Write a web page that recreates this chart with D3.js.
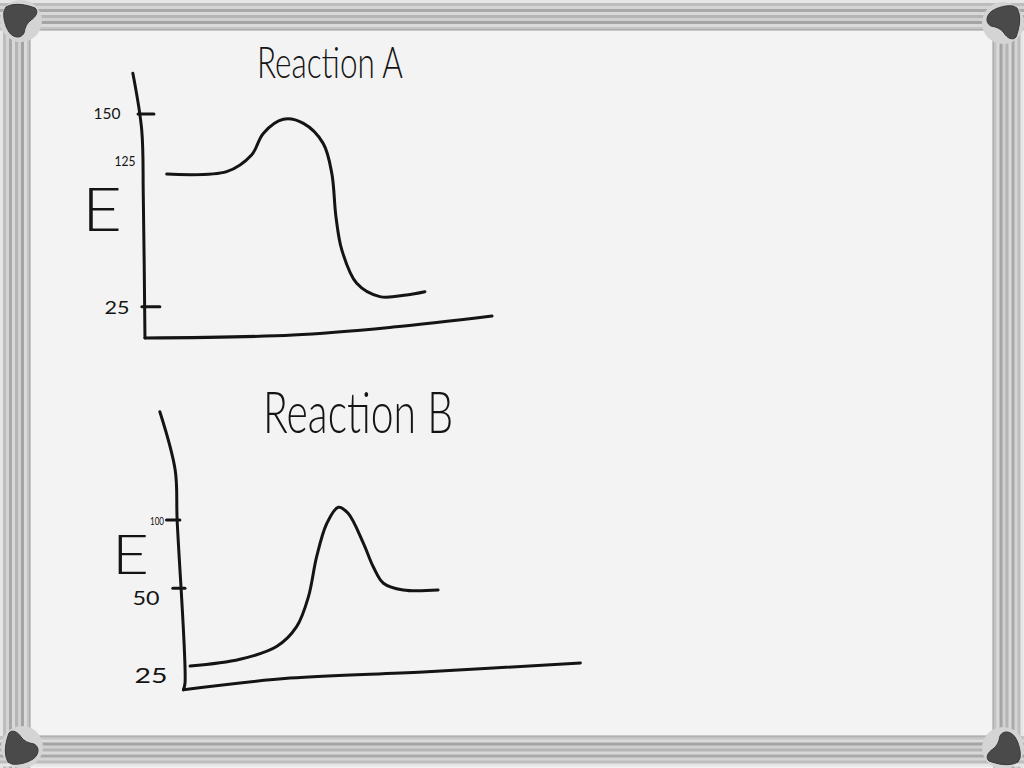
<!DOCTYPE html>
<html><head><meta charset="utf-8">
<script src="https://cdn.jsdelivr.net/npm/d3@7"></script>
<style>body{margin:0;background:#f3f3f3;overflow:hidden}svg{display:block}</style>
</head><body>
<svg id="c" width="1024" height="768"></svg>
<script>
// ---- data ----
const titles = ["Reaction A", "Reaction B"];
const axisLabel = "E";
const progressA = [6.0, 23.3, 30.5, 33.9, 39.7, 45.5, 51.2, 53.7, 54.9, 56.6, 60.9, 67.6, 75.3, 80.6];
const energyA   = [118.6, 120.3, 129.9, 140.5, 147.4, 145.4, 135.6, 119.1, 88.5, 65.0, 41.5, 32.1, 33.3, 35.6];
const progressB = [1.3, 14.0, 23.3, 28.4, 31.4, 33.5, 36.1, 39.0, 41.5, 45.4, 47.9, 50.5, 55.5, 64.4];
const energyB   = [27.3, 29.3, 33.0, 38.8, 47.5, 73.1, 97.6, 109.3, 104.9, 82.9, 65.8, 53.7, 49.5, 49.5];
const ticksA = [150, 125, 25];
const tickLabelsA = ["150", "125", "25"];
const ticksB = [100, 50, 25];
const tickLabelsB = ["100", "50", "25"];

// ---- layout ----
const W = 1024, H = 768;
const svg = d3.select("#c");
const ink = "#141414";
const font = "Lato, 'Open Sans', sans-serif";

// whiteboard frame
const B = 30;
svg.append("rect").attr("width", W).attr("height", H).attr("fill", "#f3f3f3");
const stripeCols = ["#e6e6e6","#bdbdbd","#d4d4d4","#a9a9a9","#d9d9d9","#b5b5b5","#d0d0d0","#a4a4a4","#dadada","#c4c4c4"];
function frameSide(horizontal, pos, flip) {
  const n = stripeCols.length, w = B / n;
  stripeCols.forEach((c, i) => {
    const k = flip ? n - 1 - i : i;
    if (horizontal) svg.append("rect").attr("x", 0).attr("y", pos + k * w).attr("width", W).attr("height", w + 0.5).attr("fill", c);
    else svg.append("rect").attr("x", pos + k * w).attr("y", 0).attr("width", w + 0.5).attr("height", H).attr("fill", c);
  });
}
frameSide(false, 0, false);
frameSide(false, W - B - 1, true);
frameSide(true, 0, false);
frameSide(true, H - B - 2, true);
svg.append("rect").attr("x", B).attr("y", B).attr("width", W - 2 * B - 1).attr("height", H - 2 * B - 2)
  .attr("fill", "#f3f3f3").attr("stroke", "#9a9a9a").attr("stroke-width", 1);
// corner caps
const corners = [[21, 21, 0], [W - 21, 23, 90], [22, H - 21, 270], [W - 21, H - 20, 180]];
corners.forEach(([cx, cy, rot]) => {
  const g = svg.append("g").attr("transform", `translate(${cx},${cy}) rotate(${rot})`);
  g.append("circle").attr("r", 21).attr("fill", "#d4d4d4");
  g.append("path")
    .attr("d", "M-15,-14 C-6,-19 6,-16 14,-13 C18,-10 15,-4 10,-1 C6,2 4,6 3,12 C0,18 -8,17 -12,11 C-16,5 -18,-4 -17,-10 Z")
    .attr("fill", "#4a4a4a").attr("stroke", "#383838").attr("stroke-width", 1);
});

// panels
const panels = [
  {
    title: titles[0], px: progressA, en: energyA, ticks: ticksA, labels: tickLabelsA,
    x: d3.scaleLinear().domain([0, 100]).range([146, 492]),
    y: d3.scaleLinear().domain([25, 125, 150]).range([306.7, 165, 114]),
    yAxis: [[-3.8, 170], [-1.24, 142.2], [-0.78, 102.6], [-0.3, 2.9]],
    xAxis: [[-0.3, 2.9], [42.5, 5.0], [71.4, 10.6], [100, 18.4]],
    tickMarks: [[-2.3, 2.3], null, [-1.2, 4.0]],
    tickLab: [{x: 107, dy: -2, fs: 16, tl: 27}, {x: 125, dy: -4, fs: 13, tl: 21}, {x: 117, dy: 0, fs: 18, tl: 25}],
    titleBox: {x: 257, y: 78, w: 146, fs: 44},
    eBox: {x: 82, y: 231, w: 40, fs: 62}
  },
  {
    title: titles[1], px: progressB, en: energyB, ticks: ticksB, labels: tickLabelsB,
    x: d3.scaleLinear().domain([0, 100]).range([185, 578]),
    y: d3.scaleLinear().domain([25, 50, 100]).range([674, 588.3, 520]),
    yAxis: [[-6.4, 179.3], [-2.5, 136.6], [-2.0, 100], [0, 22.3], [-0.4, 20.4]],
    xAxis: [[-0.4, 20.4], [26.7, 23.8], [60.6, 25.6], [100.6, 28.2]],
    tickMarks: [[-4.7, -1.3], [-3.1, 0], null],
    tickLab: [{x: 157, dy: 0, fs: 11, tl: 14}, {x: 146, dy: 9, fs: 19, tl: 27}, {x: 151, dy: 0, fs: 22, tl: 33}],
    titleBox: {x: 263, y: 433, w: 190, fs: 58},
    eBox: {x: 112, y: 574, w: 37, fs: 56}
  }
];

panels.forEach(p => {
  const g = svg.append("g");
  const line = d3.line().x(d => p.x(d[0])).y(d => p.y(d[1])).curve(d3.curveCatmullRom.alpha(0.5));
  const strokeStyle = s => s.attr("fill", "none").attr("stroke", ink).attr("stroke-width", 3)
    .attr("stroke-linecap", "round").attr("stroke-linejoin", "round");
  // axes
  g.append("path").attr("d", line(p.yAxis)).call(strokeStyle);
  g.append("path").attr("d", line(p.xAxis)).call(strokeStyle);
  // ticks
  p.ticks.forEach((t, i) => {
    const tm = p.tickMarks[i];
    if (tm) g.append("line").attr("x1", p.x(tm[0])).attr("x2", p.x(tm[1]))
      .attr("y1", p.y(t)).attr("y2", p.y(t)).call(strokeStyle);
    const L = p.tickLab[i];
    g.append("text").attr("x", L.x).attr("y", p.y(t) + L.dy)
      .attr("text-anchor", "middle").attr("dominant-baseline", "central")
      .attr("font-family", font).attr("font-size", L.fs).attr("fill", ink)
      .attr("textLength", L.tl).attr("lengthAdjust", "spacingAndGlyphs")
      .text(p.labels[i]);
  });
  // curve
  g.append("path").attr("d", line(p.px.map((v, i) => [v, p.en[i]]))).call(strokeStyle);
  // title
  g.append("text").attr("x", p.titleBox.x).attr("y", p.titleBox.y)
    .attr("font-family", font).attr("font-weight", 300).attr("font-size", p.titleBox.fs).attr("fill", ink)
    .attr("textLength", p.titleBox.w).attr("lengthAdjust", "spacingAndGlyphs").text(p.title);
  // axis label
  g.append("text").attr("x", p.eBox.x).attr("y", p.eBox.y)
    .attr("font-family", font).attr("font-weight", 300).attr("font-size", p.eBox.fs).attr("fill", ink)
    .attr("textLength", p.eBox.w).attr("lengthAdjust", "spacingAndGlyphs").text(axisLabel);
});
</script>
</body></html>
